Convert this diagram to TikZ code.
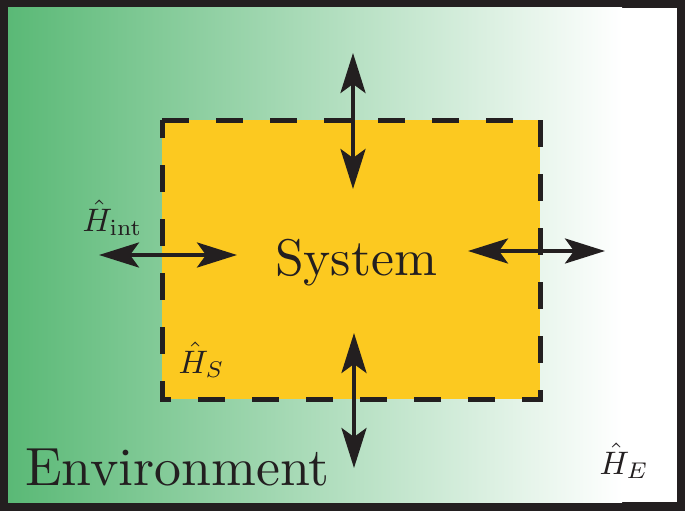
\documentclass[tikz,border=0pt]{standalone}
\usetikzlibrary{arrows.meta}
\definecolor{frameblk}{RGB}{35,31,32}
\definecolor{envgreen}{RGB}{90,185,118}
\definecolor{sysyellow}{RGB}{252,201,32}
\tikzset{
  biarrow/.style={line width=4pt, draw=frameblk,
    {Stealth[length=40pt,width=25pt,inset=9pt]}-{Stealth[length=40pt,width=25pt,inset=9pt]}},
  bigtext/.style={font=\fontsize{10}{12}\selectfont, text=frameblk, inner sep=0pt, scale=5.15},
  hamtext/.style={font=\fontsize{10}{12}\selectfont, text=frameblk, inner sep=0pt, anchor=base west, scale=3.25},
}
\begin{document}
\begin{tikzpicture}[x=1pt,y=-1pt]
\useasboundingbox (0,0) rectangle (685,511);
% frame
\fill[frameblk] (0,0) rectangle (685,511);
\fill[white] (8,8) rectangle (677,502);
\shade[left color=envgreen, right color=white] (8,8) rectangle (622,502);
% system box
\fill[sysyellow] (162,120) rectangle (540,399);
\draw[frameblk, line width=5pt, dash pattern=on 27pt off 27pt]
  (162,120) -- (540,120) -- (540,399) -- (162,399) -- cycle;
% texts
\node[bigtext, anchor=base] (sys) at (356,275) {System};
\node[bigtext, anchor=base west, scale=1.045] (env) at (24,485) {Environment};
\node[hamtext] (hint) at (82,231) {$\hat H_{\mathrm{int}}$};
\node[hamtext] (hs) at (178,373) {$\hat H_S$};
\node[hamtext] (he) at (599,474) {$\hat H_E$};
% arrow end points
\coordinate (t1) at (353,53);
\coordinate (t2) at (353,189);
\coordinate (b1) at (354,333);
\coordinate (b2) at (354,468);
\coordinate (l1) at (99,255);
\coordinate (l2) at (237,255);
\coordinate (r1) at (468,251);
\coordinate (r2) at (605,251);
\draw[biarrow] (t1) -- (t2);
\draw[biarrow] (b1) -- (b2);
\draw[biarrow] (l1) -- (l2);
\draw[biarrow] (r1) -- (r2);
\end{tikzpicture}
\end{document}
